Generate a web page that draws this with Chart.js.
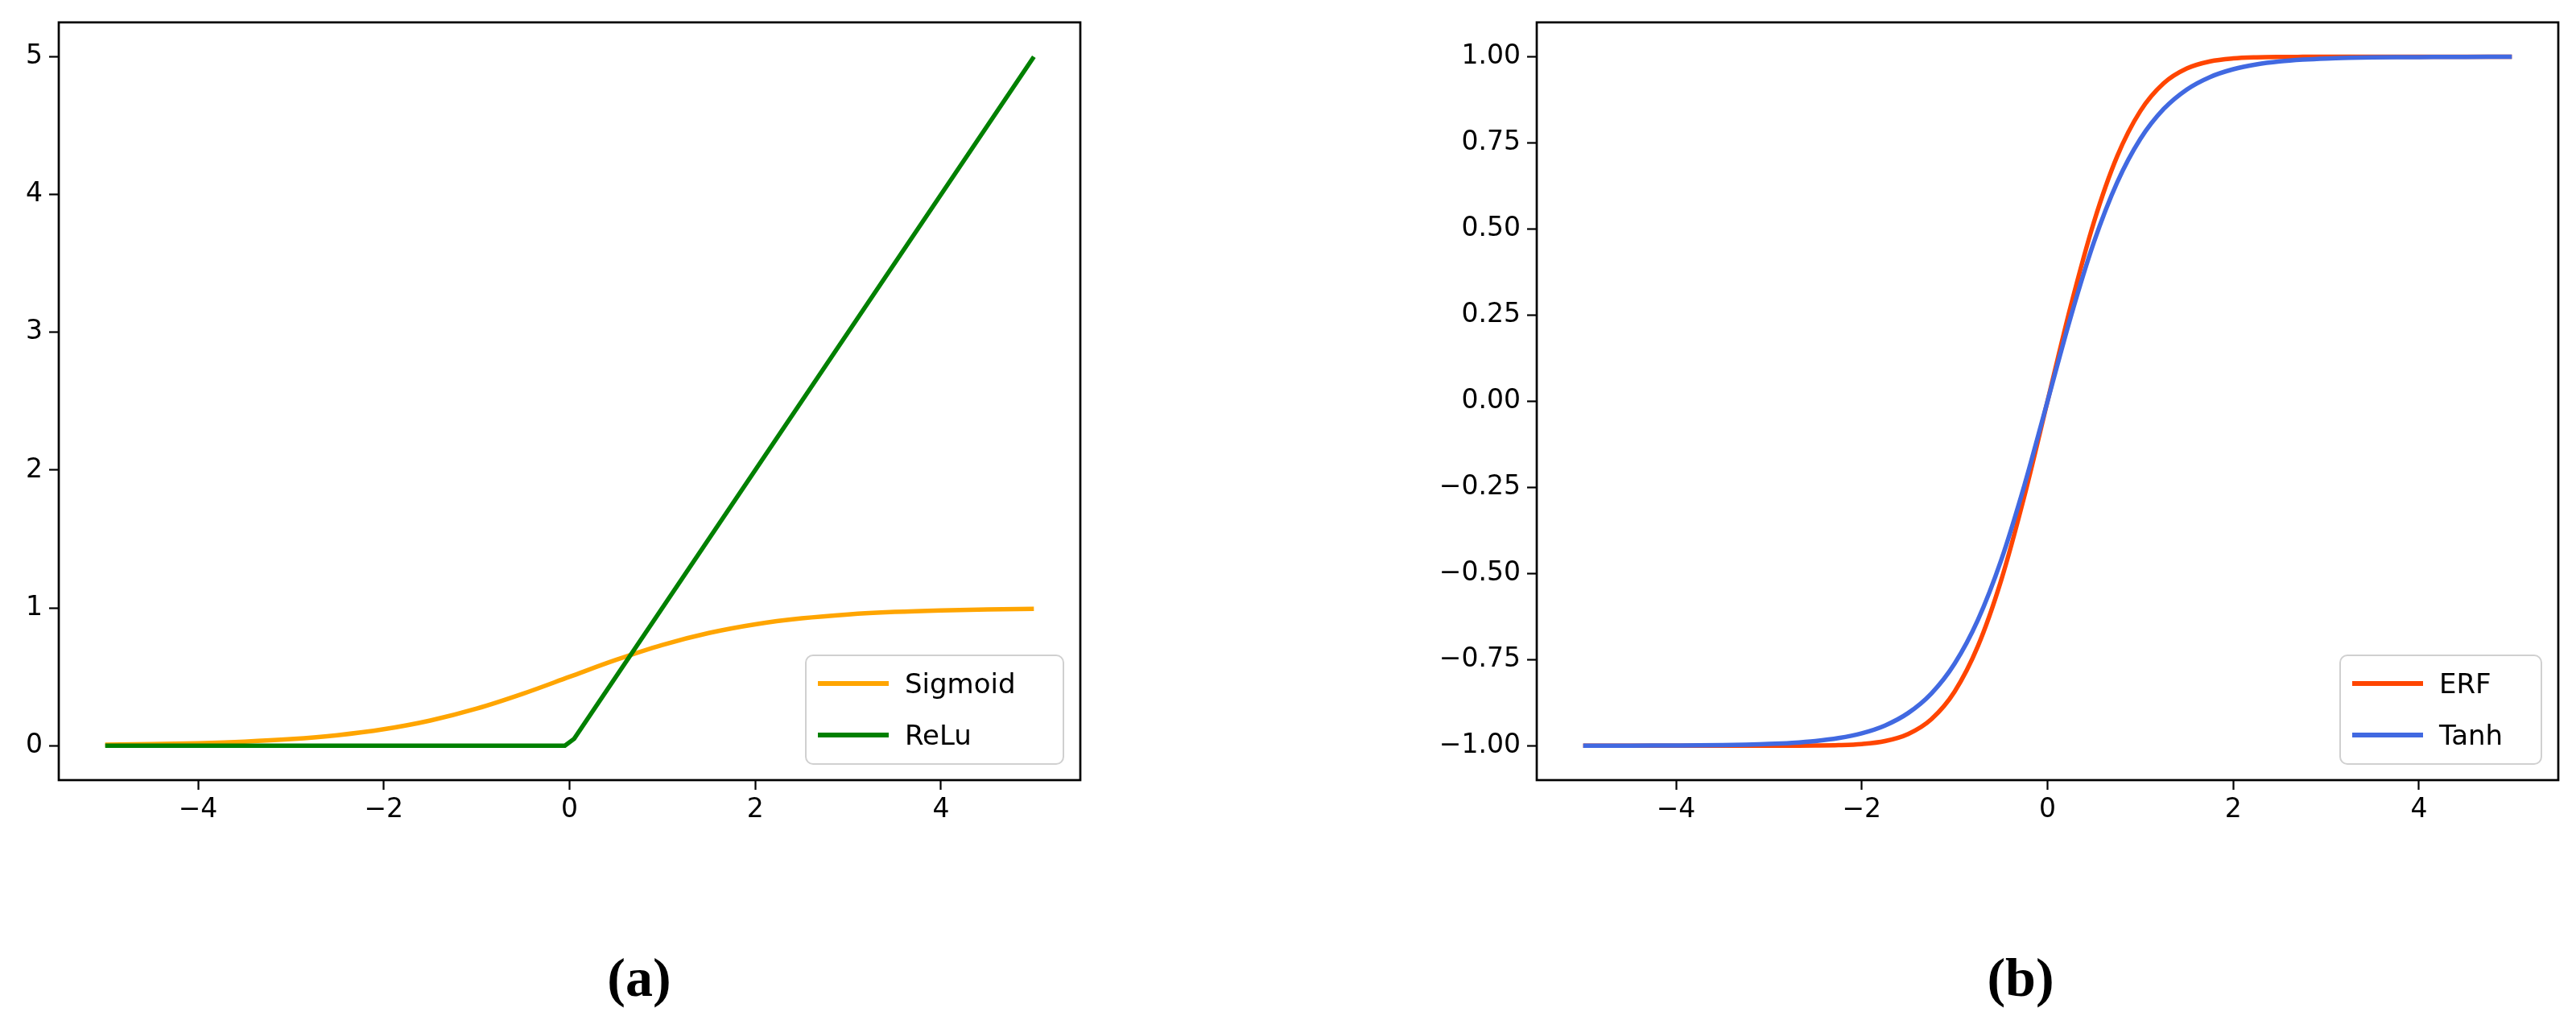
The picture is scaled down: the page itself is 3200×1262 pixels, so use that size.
<!DOCTYPE html>
<html><head><meta charset="utf-8">
<script src="https://cdn.jsdelivr.net/npm/chart.js@4/dist/chart.umd.min.js"></script>
<style>
html,body{margin:0;padding:0;background:#fff;width:3200px;height:1262px;overflow:hidden;font-family:"DejaVu Sans";}
.cv{position:absolute;top:0;width:1600px;height:1262px;}
.leg{position:absolute;border:2.5px solid #d0d0d0;border-radius:10px;background:rgba(255,255,255,0.8);box-sizing:border-box;font-size:34px;}
.row{position:absolute;left:0;height:40px;}
.row span.l{position:absolute;left:14px;top:17px;width:88px;height:6px;}
.row span.t{position:absolute;left:122px;top:0;line-height:40px;white-space:nowrap;}
.cap{position:absolute;top:1175px;font-family:"Liberation Serif","DejaVu Serif";font-weight:bold;font-size:68px;transform:translateX(-50%);}
</style></head><body>
<div class="cv" style="left:0"><canvas id="c1" width="1600" height="1262"></canvas></div>
<div class="cv" style="left:1600px"><canvas id="c2" width="1600" height="1262"></canvas></div>
<div class="leg" style="left:1000px;top:813px;width:322px;height:137px;">
 <div class="row" style="top:14px"><span class="l" style="background:#ffa500"></span><span class="t">Sigmoid</span></div>
 <div class="row" style="top:78px"><span class="l" style="background:#008000"></span><span class="t">ReLu</span></div>
</div>
<div class="leg" style="left:2906px;top:813px;width:252px;height:137px;">
 <div class="row" style="top:14px"><span class="l" style="background:#ff4500"></span><span class="t">ERF</span></div>
 <div class="row" style="top:78px"><span class="l" style="background:#4169e1"></span><span class="t">Tanh</span></div>
</div>
<div class="cap" style="left:794px">(a)</div>
<div class="cap" style="left:2510px">(b)</div>
<script>
const xSig = [-5,-4.5,-4,-3.5,-3,-2.5,-2,-1.5,-1,-0.5,0,0.5,1,1.5,2,2.5,3,3.5,4,4.5,5];
const sigmoid = [0.0067,0.0110,0.0180,0.0293,0.0474,0.0759,0.1192,0.1824,0.2689,0.3775,0.5,0.6225,0.7311,0.8176,0.8808,0.9241,0.9526,0.9707,0.9820,0.9890,0.9933];
const xRelu = [-5,-0.05,0.05,5];
const relu = [0,0,0.05,5];
const xFine = [-5,-4.75,-4.5,-4.25,-4,-3.75,-3.5,-3.25,-3,-2.75,-2.5,-2.25,-2,-1.75,-1.5,-1.25,-1,-0.75,-0.5,-0.25,0,0.25,0.5,0.75,1,1.25,1.5,1.75,2,2.25,2.5,2.75,3,3.25,3.5,3.75,4,4.25,4.5,4.75,5];
const erf = [-1,-1,-1,-1,-1,-1,-1,-1,-1,-0.9999,-0.9996,-0.9985,-0.9953,-0.9867,-0.9661,-0.9229,-0.8427,-0.7112,-0.5205,-0.2763,0,0.2763,0.5205,0.7112,0.8427,0.9229,0.9661,0.9867,0.9953,0.9985,0.9996,0.9999,1,1,1,1,1,1,1,1,1];
const tanh = [-0.9999,-0.9999,-0.9998,-0.9996,-0.9993,-0.9989,-0.9982,-0.9970,-0.9951,-0.9918,-0.9866,-0.9780,-0.9640,-0.9414,-0.9051,-0.8483,-0.7616,-0.6351,-0.4621,-0.2449,0,0.2449,0.4621,0.6351,0.7616,0.8483,0.9051,0.9414,0.9640,0.9780,0.9866,0.9918,0.9951,0.9970,0.9982,0.9989,0.9993,0.9996,0.9998,0.9999,0.9999];
const xTicks = [-4,-2,0,2,4];
const yTicksA = [0,1,2,3,4,5];
const yTicksB = [-1,-0.75,-0.5,-0.25,0,0.25,0.5,0.75,1];

const pts = (xs, ys) => xs.map((x,i)=>({x, y: ys[i]}));
const minus = s => String(s).replace('-', '\u2212');
const frame = {id:'frame', afterDraw(c){const a=c.chartArea,g=c.ctx;g.save();g.strokeStyle='#000';g.lineWidth=2.7;g.strokeRect(a.left,a.top,a.right-a.left,a.bottom-a.top);g.restore();}};
const font = {family:'DejaVu Sans', size:33};

function make(id, datasets, ymin, ymax, yTicks, yFmt, yWidth, padRight){
  new Chart(document.getElementById(id), {
    type:'line',
    data:{datasets},
    options:{
      responsive:false, animation:false, events:[],
      layout:{padding:{left:0, right:padRight, top:24, bottom:233}},
      plugins:{legend:{display:false}, tooltip:{enabled:false}},
      elements:{point:{radius:0}, line:{borderWidth:5.5, cubicInterpolationMode:'monotone'}},
      scales:{
        x:{type:'linear', min:-5.5, max:5.5,
           afterBuildTicks:s=>{s.ticks=xTicks.map(v=>({value:v}));},
           afterFit:s=>{s.height=60;},
           grid:{drawOnChartArea:false, tickLength:12, tickColor:'#000', tickWidth:2.2},
           border:{display:false},
           ticks:{color:'#000', font, padding:6, maxRotation:0, callback:v=>minus(v)}},
        y:{type:'linear', min:ymin, max:ymax,
           afterBuildTicks:s=>{s.ticks=yTicks.map(v=>({value:v}));},
           afterFit:s=>{s.width=yWidth;},
           grid:{drawOnChartArea:false, tickLength:12, tickColor:'#000', tickWidth:2.2},
           border:{display:false},
           ticks:{color:'#000', font, padding:8, callback:v=>minus(yFmt(v))}}
      }
    },
    plugins:[frame]
  });
}
make('c1', [
  {data:pts(xSig,sigmoid), borderColor:'#ffa500', order:2},
  {data:pts(xRelu,relu), borderColor:'#008000', cubicInterpolationMode:'default', tension:0, order:1}
], -0.25, 5.25, yTicksA, v=>v, 73, 258);
make('c2', [
  {data:pts(xFine,erf), borderColor:'#ff4500', order:2},
  {data:pts(xFine,tanh), borderColor:'#4169e1', order:1}
], -1.1, 1.1, yTicksB, v=>v.toFixed(2), 309, 22);
</script>
</body></html>
